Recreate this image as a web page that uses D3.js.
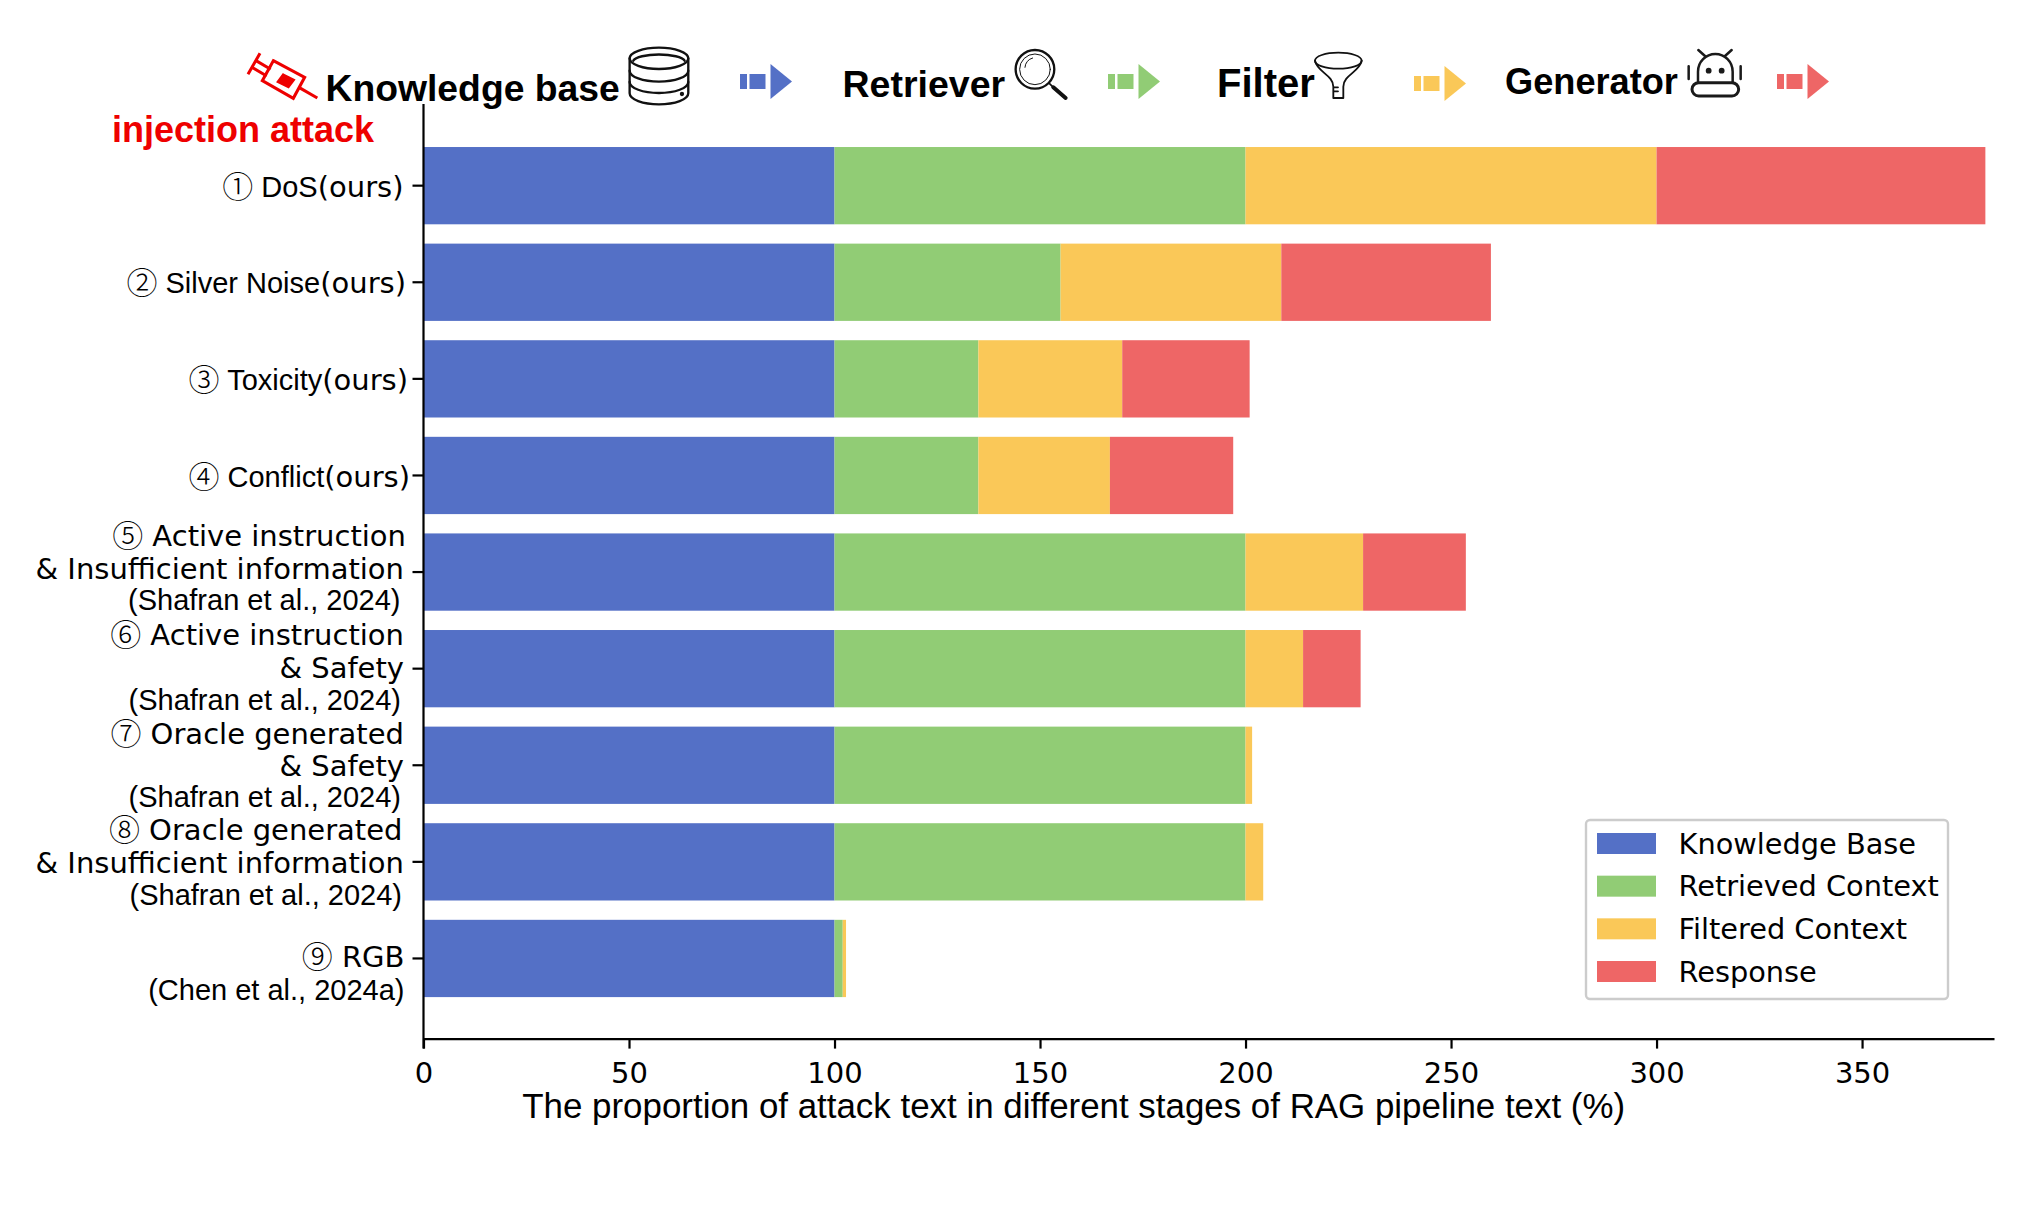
<!DOCTYPE html>
<html><head><meta charset="utf-8">
<script src="https://cdn.jsdelivr.net/npm/d3@7"></script>
<style>html,body{margin:0;padding:0;background:#fff}svg{display:block}</style>
</head><body><svg id="c" width="2034" height="1215"></svg>
<script>
// ---- data ----
const categories = [
  ["① DoS(ours)"],
  ["② Silver Noise(ours)"],
  ["③ Toxicity(ours)"],
  ["④ Conflict(ours)"],
  ["⑤ Active instruction","& Insufficient information","(Shafran et al., 2024)"],
  ["⑥ Active instruction","& Safety","(Shafran et al., 2024)"],
  ["⑦ Oracle generated","& Safety","(Shafran et al., 2024)"],
  ["⑧ Oracle generated","& Insufficient information","(Shafran et al., 2024)"],
  ["⑨ RGB","(Chen et al., 2024a)"]
];
const seriesNames = ["Knowledge Base","Retrieved Context","Filtered Context","Response"];
const knowledgeBase = [100,100,100,100,100,100,100,100,100];
const retrievedContext = [100,55,35,35,100,100,100,100,2];
const filteredContext = [100,53.7,35,32,28.6,14,1.6,4.3,0.8];
const response = [80,51,31,30,25,14,0,0,0];
const xTicks = [0,50,100,150,200,250,300,350];
const xLabel = "The proportion of attack text in different stages of RAG pipeline text (%)";
const pipelineTitles = ["Knowledge base","Retriever","Filter","Generator"];
const attackTitle = "injection attack";

// ---- styling and layout ----
const colors = ["#5470C6","#91CC75","#FAC858","#EE6666"];
const SANS="'Liberation Sans',Arial,sans-serif", DJ="'DejaVu Sans',sans-serif", CIRC="'Noto Sans CJK JP','DejaVu Sans',sans-serif";
const plotLeft=423.5,plotRight=1994,plotTop=104,plotBottom=1038.6;
// right edge and baseline offset of each label line, per row
const labelPlacement=[
 [[403.5,11.3]],[[406,10.7]],[[408,11]],[[410,11.5]],
 [[406,-26.5],[404,6.5],[400.5,38]],
 [[404,-23.2],[404,9.3],[401,41.3]],
 [[404,-21.2],[404,10.9],[401,41.7]],
 [[402.5,-21.4],[404,11.1],[402,42.7]],
 [[404.5,9],[404.5,41.5]]
];
const svg=d3.select("#c");
const x=d3.scaleLinear().domain([0,382.1]).range([plotLeft,plotRight]);
const ids=categories.map(c=>c.join(" "));
const y=d3.scaleBand().domain(ids).range([plotTop,plotBottom]).paddingInner(.2).paddingOuter(.4375).align(.509);

const rows=ids.map((id,i)=>({id,[seriesNames[0]]:knowledgeBase[i],[seriesNames[1]]:retrievedContext[i],[seriesNames[2]]:filteredContext[i],[seriesNames[3]]:response[i]}));
const stacked=d3.stack().keys(seriesNames)(rows);
svg.append("g").selectAll("g").data(stacked).join("g").attr("fill",(d,i)=>colors[i])
  .selectAll("rect").data(d=>d).join("rect")
  .attr("x",d=>x(d[0])).attr("width",d=>x(d[1])-x(d[0]))
  .attr("y",d=>y(d.data.id)).attr("height",y.bandwidth());

// axes
const xAxis=svg.append("g").attr("transform",`translate(0,${plotBottom})`)
  .call(d3.axisBottom(x).tickValues(xTicks).tickSize(10).tickPadding(6).tickSizeOuter(0));
xAxis.selectAll("path,line").attr("stroke","#000").attr("stroke-width",2.2);
xAxis.selectAll("text").attr("font-family",DJ).attr("font-size",29).attr("fill","#000").attr("dy",null).attr("y",44);
const yAxis=svg.append("g").attr("transform",`translate(${plotLeft},0)`)
  .call(d3.axisLeft(y).tickSize(11).tickSizeOuter(0).tickFormat(""));
yAxis.selectAll("path,line").attr("stroke","#000").attr("stroke-width",2.2);
yAxis.select("path").attr("d",`M0,${plotTop}V${plotBottom+10}`);

// category labels: circled numeral, name, (ours)/citation in their own fonts
const labels=svg.append("g").attr("fill","#000");
categories.forEach((lines,r)=>{
  lines.forEach((line,l)=>{
    const [ex,off]=labelPlacement[r][l];
    const t=labels.append("text").attr("x",ex).attr("y",y(ids[r])+y.bandwidth()/2+off).attr("text-anchor","end");
    const cite=/^\(/.test(line);
    const parts=line.match(/^([①-⑨])?( ?)(.*?)(\(ours\))?$/);
    if(parts[1]) t.append("tspan").attr("font-family",CIRC).attr("font-size",31).attr("font-weight",300).attr("dy",1).text(parts[1]);
    const body=t.append("tspan").attr("font-family",(r<4||cite)?SANS:DJ).attr("font-size",29).text(parts[2]+parts[3]);
    if(parts[1]) body.attr("dy",-1);
    if(parts[4]) t.append("tspan").attr("font-family",DJ).attr("font-size",29).text(parts[4]);
  });
});

// axis title
svg.append("text").attr("x",(524.4+1623)/2).attr("y",1118).attr("text-anchor","middle")
  .attr("font-family",SANS).attr("font-size",34.9).attr("fill","#000").text(xLabel);

// legend
const lg=svg.append("g");
lg.append("rect").attr("x",1586).attr("y",820).attr("width",362).attr("height",179).attr("rx",4)
  .attr("fill","#fff").attr("fill-opacity",.8).attr("stroke","#ccc").attr("stroke-width",2.4);
const lgY=d3.scalePoint().domain(seriesNames).range([833,961]);
seriesNames.forEach((n,i)=>{
  lg.append("rect").attr("x",1597).attr("y",lgY(n)).attr("width",59).attr("height",21).attr("fill",colors[i]);
  lg.append("text").attr("x",1678.5).attr("y",lgY(n)+20.5).attr("font-family",DJ).attr("font-size",28.8).attr("fill","#000").text(n);
});

// pipeline header text
const titleSpec=[[325.5,100.7,37.3],[842.5,96.7,37.5],[1217,96.5,40],[1505,93.8,36.2]];
pipelineTitles.forEach((s,i)=>svg.append("text").attr("x",titleSpec[i][0]).attr("y",titleSpec[i][1])
  .attr("font-family",SANS).attr("font-weight",700).attr("font-size",titleSpec[i][2]).attr("fill","#000").text(s));
svg.append("text").attr("x",112).attr("y",142.2).attr("font-family",SANS).attr("font-weight",700)
  .attr("font-size",36).attr("fill","#ee0000").text(attackTitle);

// arrows between the stages
const arrowSpec=[[737,74],[1105,74],[1411,76],[1774,74]];
arrowSpec.forEach((a,i)=>{
  const g=svg.append("g").attr("transform",`translate(${a[0]},${a[1]})`).attr("fill",colors[i]);
  g.append("rect").attr("x",3).attr("y",0).attr("width",7).attr("height",15);
  g.append("rect").attr("x",12.5).attr("y",0).attr("width",16).attr("height",15);
  g.append("path").attr("d","M33.5,-10L55,7.5L33.5,25Z");
});

// stage icons
const ic=svg.append("g").attr("fill","none").attr("stroke","#111").attr("stroke-linecap","round").attr("stroke-linejoin","round");
// syringe
const sy=svg.append("g").attr("transform","translate(230,30) scale(.3333)").attr("fill","none").attr("stroke","#ee0000").attr("stroke-width",9);
sy.append("path").attr("d","M54,133L90,70M66,112L110,138M78,92L122,118");
sy.append("path").attr("d","M130,92L224,142L190,205L97,152Z");
sy.append("path").attr("d","M160,135L190,150L175,170L145,155Z").attr("fill","#ee0000");
sy.append("path").attr("d","M208,173L262,204");
// database
const db=ic.append("g").attr("transform","translate(230,30) scale(.3333)").attr("stroke-width",7);
db.append("path").attr("d","M1199,85A88,32 0 0 1 1375,85V190A88,33 0 0 1 1199,190Z");
db.append("path").attr("d","M1199,85A88,32 0 0 0 1375,85");
db.append("path").attr("d","M1210,92A78,22 0 0 1 1364,92");
db.append("path").attr("d","M1199,122A88,33 0 0 0 1375,122");
db.append("path").attr("d","M1199,156A88,33 0 0 0 1375,156");
db.append("circle").attr("cx",1356).attr("cy",192).attr("r",3).attr("fill","#111");
// magnifier
const mg=ic.append("g").attr("transform","translate(700,30) scale(.3333)");
mg.append("circle").attr("cx",1005).attr("cy",118).attr("r",58).attr("stroke-width",7);
mg.append("circle").attr("cx",1005).attr("cy",118).attr("r",46).attr("stroke-width",3);
mg.append("path").attr("d","M1048,160L1060,172").attr("stroke-width",5);
mg.append("path").attr("d","M1060,172L1097,204").attr("stroke-width",12);
mg.append("path").attr("d","M975,112A32,32 0 0 1 998,84").attr("stroke-width",3);
// funnel
const fn=ic.append("g").attr("transform","translate(1200,30) scale(.3333)").attr("stroke-width",5.5);
fn.append("ellipse").attr("cx",415).attr("cy",92).attr("rx",70).attr("ry",24);
fn.append("path").attr("d","M345,92C350,125 400,135 400,170V204H430V170C430,135 480,125 485,92");
fn.append("path").attr("d","M402,172H414M402,184H414");
// robot
const rb=ic.append("g").attr("transform","translate(1670,40) scale(.3333)").attr("stroke-width",7.5).attr("stroke","#1a1a1a");
rb.append("path").attr("d","M85,30L105,48M185,30L165,48");
rb.append("path").attr("d","M84,127V95A51,52 0 0 1 188,95V127");
rb.append("path").attr("d","M56,79V117M212,79V117");
rb.append("rect").attr("x",66).attr("y",128).attr("width",140).attr("height",40).attr("rx",20).attr("stroke-width",9);
rb.append("circle").attr("cx",116).attr("cy",92).attr("r",5).attr("fill","#1a1a1a");
rb.append("circle").attr("cx",155).attr("cy",92).attr("r",5).attr("fill","#1a1a1a");
</script></body></html>
